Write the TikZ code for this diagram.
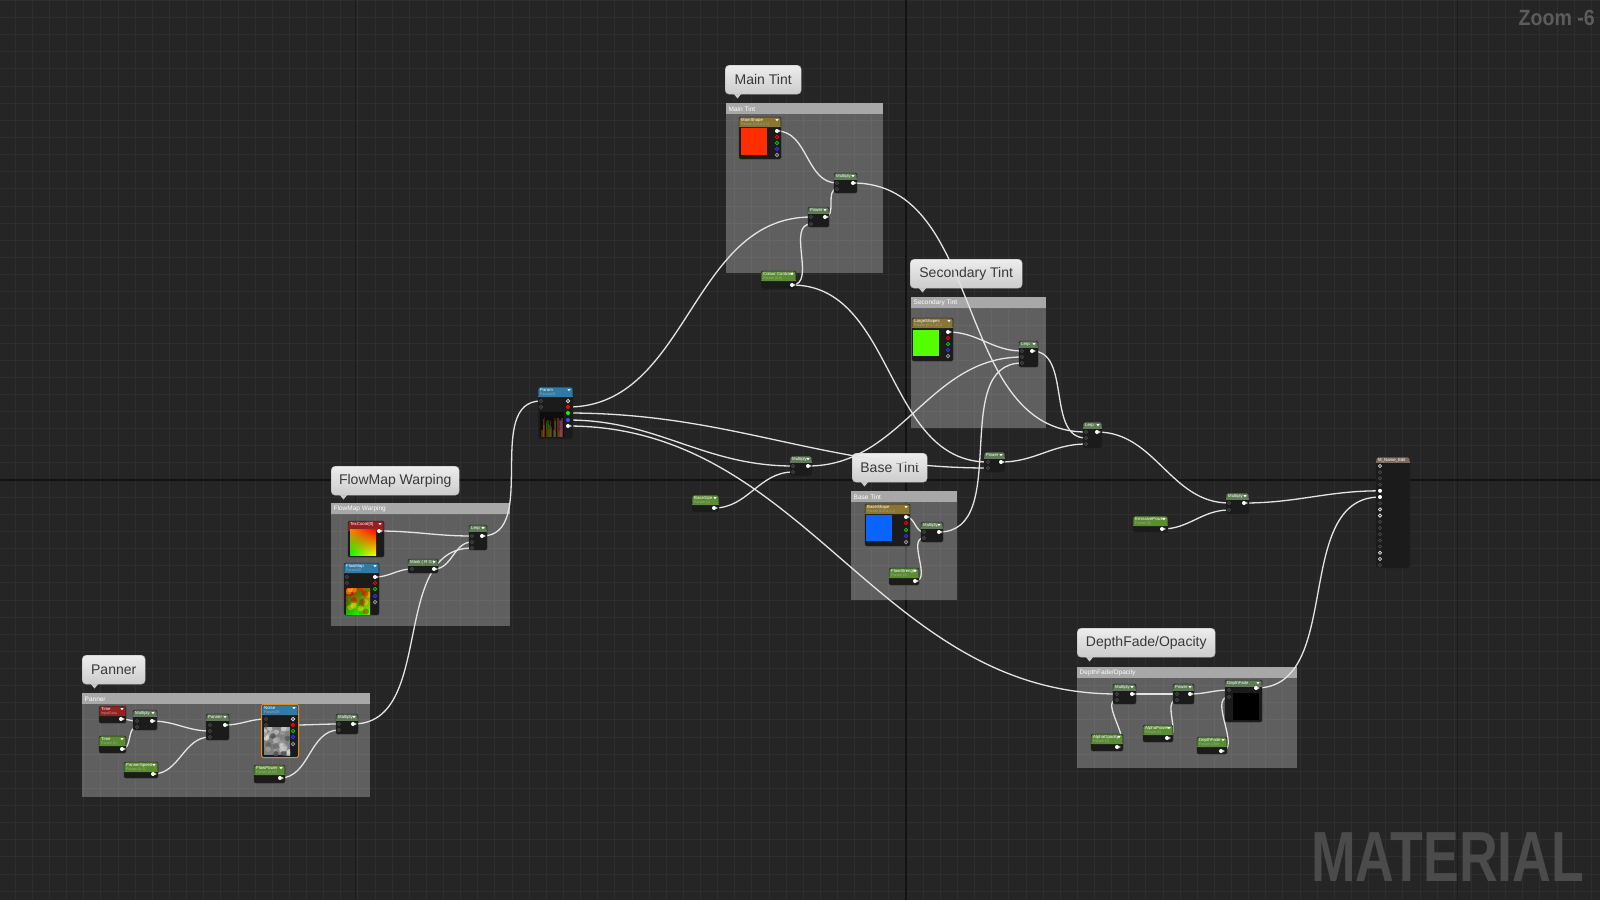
\documentclass[tikz,border=0pt]{standalone}
\usepackage{fontspec}
\setmainfont{Liberation Sans}
\usetikzlibrary{shadings}
\definecolor{bgc}{HTML}{252525}
\definecolor{gridc}{HTML}{2E2E2E}
\definecolor{axisc}{HTML}{121212}
\definecolor{majc}{HTML}{1C1C1C}
\definecolor{wirec}{HTML}{E4E4E4}
\definecolor{nodebody}{HTML}{1B1B1B}
\definecolor{mathhead}{HTML}{5E7A57}
\definecolor{paramhead}{HTML}{5A8C32}
\definecolor{vechead}{HTML}{8A7532}
\definecolor{texhead}{HTML}{2F7BA6}
\definecolor{redhead}{HTML}{952020}
\definecolor{reshead}{HTML}{7B6A5C}
\definecolor{ctitle}{HTML}{A8A8A8}
\definecolor{swred}{HTML}{FF2D00}
\definecolor{swgreen}{HTML}{55FF00}
\definecolor{swblue}{HTML}{0A64FF}
\definecolor{selorange}{HTML}{E08A1E}
\definecolor{pindim}{HTML}{4A4A4A}
\definecolor{bubtext}{HTML}{383838}
\definecolor{matc}{HTML}{4B4B4B}
\definecolor{zoomc}{HTML}{5C5C5C}
\pgfdeclarelayer{bglayer}
\pgfdeclarelayer{wirelayer}
\pgfsetlayers{bglayer,wirelayer,main}
\newcommand\mkNode[8]{%
  \pgfmathsetmacro\mkw{#4-(#2)}%
  \pgfmathsetmacro\mkh{#5-(#3)}%
  \node[nodebox, minimum width=\mkw pt, minimum height=\mkh pt, anchor=north west] (#1) at (#2,#3) {};%
  \fill[#6, rounded corners=1.5pt] (#2+0.4,#3+0.4) rectangle (#4-0.4,#3+#7);%
  \fill[#6] (#2+0.4,#3+#7-1.5) rectangle (#4-0.4,#3+#7);%
  \node[ntitle, anchor=west] (#1-t) at (#2+2,#3+3.2) {#8};%
}
\newcommand\mathN[6]{%
  \mkNode{#1}{#2}{#3}{#4}{#5}{mathhead}{6.5}{#6}%
  \fill[white] (#4-5.5,#3+2.2) -- (#4-2.5,#3+2.2) -- (#4-4,#3+4.2) -- cycle;%
}
\newcommand\parN[8]{%
  \mkNode{#1}{#2}{#3}{#4}{#5}{#6}{10}{#7}%
  \node[nsub, anchor=west] (#1-s) at (#2+2,#3+7.4) {#8};%
  \fill[white] (#4-5.5,#3+2.2) -- (#4-2.5,#3+2.2) -- (#4-4,#3+4.2) -- cycle;%
}
\newcommand\pOut[3]{%
  \coordinate (#1) at (#2,#3);%
  \fill[white] (#1) circle (2);%
  \fill[white] (#2+2.4,#3-1.2) -- (#2+3.6,#3) -- (#2+2.4,#3+1.2) -- cycle;%
}
\newcommand\pIn[3]{%
  \coordinate (#1) at (#2,#3);%
  \draw[pindim, line width=0.7pt] (#1) circle (1.6);%
}
\newcommand\pCol[4]{%
  \coordinate (#1) at (#2,#3);%
  \draw[#4, line width=0.8pt] (#1) circle (1.7);%
}
\newcommand\mkComment[6]{%
  \pgfmathsetmacro\mkw{#4-(#2)}%
  \pgfmathsetmacro\mkh{#5-(#3)}%
  \node[cbox, minimum width=\mkw pt, minimum height=\mkh pt, anchor=north west] (#1) at (#2,#3) {};%
  \fill[ctitle] (#2,#3) rectangle (#4,#3+11);%
  \node[ctext, anchor=west] (#1-t) at (#2+2.5,#3+5.8) {#6};%
}
\newcommand\mkBubble[6]{%
  \pgfmathsetmacro\mkw{#4-(#2)}%
  \pgfmathsetmacro\mkh{#5-(#3)}%
  \fill[white!80!black] (#2+8,#5-1) -- (#2+17,#5-1) -- (#2+12.5,#5+4.5) -- cycle;%
  \node[bubble, minimum width=\mkw pt, minimum height=\mkh pt, anchor=north west] (#1) at (#2,#3) {#6};%
}
\begin{document}
\begin{tikzpicture}[x=1pt,y=-1pt,
  wire/.style={draw=wirec, line width=1.3pt, line cap=round},
  nodebox/.style={draw=black!85, fill=nodebody, rounded corners=1.5pt, inner sep=0pt, outer sep=0pt},
  ntitle/.style={text=white, font=\fontsize{4.3}{5}\selectfont, inner sep=0pt},
  nsub/.style={text=white!65!black, font=\fontsize{3.6}{4}\selectfont, inner sep=0pt},
  bubble/.style={draw=white!70!black, top color=white!93!black, bottom color=white!80!black, rounded corners=4pt, text=bubtext, font=\fontsize{14}{16}\selectfont, inner sep=0pt},
  cbox/.style={fill=white, fill opacity=0.27, draw=none, inner sep=0pt},
  ctext/.style={text=white, font=\fontsize{6.5}{7}\selectfont, inner sep=0pt},
  resdim/.style={draw=pindim, line width=0.7pt},
  resbright/.style={draw=white!85!black, line width=0.8pt}]
\useasboundingbox (0,0) rectangle (1600,900);
\begin{pgfonlayer}{bglayer}
\fill[bgc] (0,0) rectangle (1600,900);
\foreach \i in {-52,...,40} {\pgfmathsetmacro\gx{906+\i*17.13}\draw[gridc, line width=0.8pt] (\gx,0) -- (\gx,900);}
\foreach \j in {-28,...,24} {\pgfmathsetmacro\gy{480+\j*17.13}\draw[gridc, line width=0.8pt] (0,\gy) -- (1600,\gy);}
\draw[majc, line width=1pt] (355,0) -- (355,900);
\draw[majc, line width=1pt] (1457,0) -- (1457,900);
\draw[axisc, line width=1.3pt] (906,0) -- (906,900);
\draw[axisc, line width=1.3pt] (0,480) -- (1600,480);
% watermark texts
\node[anchor=south west, inner sep=0pt, text=matc, font=\fontsize{71}{71}\selectfont\bfseries, xscale=0.755] (mat) at (1311,882) {MATERIAL};
\node[anchor=north east, inner sep=0pt, text=zoomc, font=\fontsize{22}{22}\selectfont\bfseries, xscale=0.89] (zoom) at (1595,10) {Zoom -6};
% comment boxes
\mkComment{cMain}{726}{103}{883}{273}{Main Tint}
\mkComment{cSec}{911}{297}{1046}{428}{Secondary Tint}
\mkComment{cBase}{851}{491}{957}{600}{Base Tint}
\mkComment{cFlow}{331}{503}{510}{626}{FlowMap Warping}
\mkComment{cPan}{82}{693}{370}{797}{Panner}
\mkComment{cDepth}{1077}{667}{1297}{768}{DepthFade/Opacity}
% bubbles
\mkBubble{bMain}{725}{65}{801}{94}{Main Tint}
\mkBubble{bSec}{910}{259}{1022}{288}{Secondary Tint}
\mkBubble{bBase}{852}{453}{927}{482}{Base Tint}
\mkBubble{bFlow}{331}{466}{459}{495}{FlowMap Warping}
\mkBubble{bPan}{82}{655}{145}{684}{Panner}
\mkBubble{bDepth}{1077}{628}{1215}{657}{DepthFade/Opacity}
\end{pgfonlayer}
%% ---------------- Main Tint
\parN{ms}{739}{117}{781}{159}{vechead}{MainShape}{Param (1,0.2,0,1)}
\fill[swred] (741,128) rectangle (767,155);
\pOut{ms-o}{777}{131}\pCol{ms-r}{777}{137}{red}\pCol{ms-g}{777}{143}{green!80!black}\pCol{ms-b}{777}{149}{blue!80!white}\pCol{ms-a}{777}{155}{white!60!black}
\mathN{mtMul}{834}{173}{857}{193}{Multiply}
\pIn{mtMul-i1}{837}{183}\pIn{mtMul-i2}{837}{189}\pOut{mtMul-o}{853}{183}
\mathN{mtPow}{808}{207}{829}{227}{Power}
\pIn{mtPow-i1}{811}{217}\pIn{mtPow-i2}{811}{224}\pOut{mtPow-o}{825}{217}
\parN{cc}{761}{271}{796}{289}{paramhead}{Colour Contrast}{Param (0.5)}
\pOut{cc-o}{792}{285}
%% ---------------- Secondary Tint
\parN{ls}{912}{318}{953}{361}{vechead}{LargeShapes}{Param (0.3,1,0,1)}
\fill[swgreen] (913,330) rectangle (939,356);
\pOut{ls-o}{948}{332}\pCol{ls-r}{948}{338}{red}\pCol{ls-g}{948}{344}{green!80!black}\pCol{ls-b}{948}{350}{blue!80!white}\pCol{ls-a}{948}{356}{white!60!black}
\mathN{stL}{1019}{341}{1038}{367}{Lerp}
\pIn{stL-i1}{1022}{351}\pIn{stL-i2}{1022}{357}\pIn{stL-i3}{1022}{363}\pOut{stL-o}{1032}{351}
\mathN{l2}{1083}{422}{1102}{448}{Lerp}
\pIn{l2-i1}{1086}{432}\pIn{l2-i2}{1086}{438}\pIn{l2-i3}{1086}{444}\pOut{l2-o}{1097}{432}
\mathN{pw2}{984}{452}{1005}{472}{Power}
\pIn{pw2-i1}{988}{462}\pIn{pw2-i2}{988}{468}\pOut{pw2-o}{1001}{462}
%% ---------------- Base Tint
\parN{bsh}{865}{504}{910}{546}{vechead}{BaseShape}{Param (0,0.4,1,1)}
\fill[swblue] (866,515) rectangle (892,541);
\pOut{bsh-o}{906}{517}\pCol{bsh-r}{906}{523}{red}\pCol{bsh-g}{906}{530}{green!80!black}\pCol{bsh-b}{906}{536}{blue!80!white}\pCol{bsh-a}{906}{542}{white!60!black}
\mathN{btMul}{921}{522}{943}{542}{Multiply}
\pIn{btMul-i1}{924}{532}\pIn{btMul-i2}{924}{538}\pOut{btMul-o}{939}{532}
\parN{fs}{889}{568}{919}{585}{paramhead}{FlowStrength}{Param (1)}
\pOut{fs-o}{915}{581}
%% ---------------- middle
\mathN{mm}{790}{456}{812}{476}{Multiply}
\pIn{mm-i1}{793}{466}\pIn{mm-i2}{793}{472}\pOut{mm-o}{808}{466}
\parN{bs}{692}{495}{719}{512}{paramhead}{BaseSize}{Param (1)}
\pOut{bs-o}{714}{508}
\parN{prm}{538}{387}{573}{439}{texhead}{Param}{Param2D}
\fill[black!95] (540,412) rectangle (564,437);
\begin{scope}
\clip (540,412) rectangle (564,437);
\pgfmathsetseed{7}
\foreach \k in {1,...,30}{%
  \pgfmathsetmacro\sx{540+22*rnd}%
  \pgfmathsetmacro\sh{4+16*rnd}%
  \pgfmathtruncatemacro\sc{mod(\k,4)}%
  \ifcase\sc \def\scol{red!70!black}\or \def\scol{green!55!black}\or \def\scol{magenta!55!black}\or \def\scol{orange!65!black}\fi
  \fill[\scol, opacity=0.5] (\sx,437) rectangle (\sx+1.6,437-\sh);
}
\end{scope}
\pIn{prm-i1}{541}{401}\pIn{prm-i2}{541}{407}
\pCol{prm-rgb}{568}{401}{white!85!black}
\coordinate (prm-r) at (568,407);\fill[red] (prm-r) circle (2);
\coordinate (prm-g) at (568,413);\fill[green] (prm-g) circle (2);
\coordinate (prm-b) at (568,420);\fill[blue!70!white] (prm-b) circle (2);
\pOut{prm-a}{568}{426}
%% ---------------- FlowMap Warping
\parN{tc}{348}{521}{384}{557}{redhead}{TexCoord[0]}{}
\shade[upper left=orange, upper right=red, lower left=green, lower right=yellow] (350,529) rectangle (376,555);
\pOut{tc-o}{379}{531}
\parN{fm}{344}{563}{379}{615}{texhead}{FlowMap}{Param2D}
\shade[upper left=red!80!black, upper right=orange!80!black, lower left=green!80!black, lower right=green!60!yellow] (346,588) rectangle (370,614);
\begin{scope}
\clip (346,588) rectangle (370,614);
\pgfmathsetseed{11}
\foreach \k in {1,...,30}{%
  \pgfmathsetmacro\ax{346+24*rnd}%
  \pgfmathsetmacro\ay{588+26*rnd}%
  \pgfmathtruncatemacro\sc{mod(\k,3)}%
  \ifcase\sc \def\scol{red!80!black}\or \def\scol{green!70!black}\or \def\scol{yellow!80!orange}\fi
  \fill[\scol, opacity=0.45] (\ax,\ay) circle (3);
}
\end{scope}
\pIn{fm-i1}{347}{577}\pIn{fm-i2}{347}{583}
\pOut{fm-o}{375}{577}\pCol{fm-r}{375}{583}{red}\pCol{fm-g}{375}{589}{green!80!black}\pCol{fm-b}{375}{596}{blue!80!white}\pCol{fm-a}{375}{602}{white!60!black}
\mathN{mask}{408}{559}{438}{573}{Mask ( R G )}
\pIn{mask-i}{412}{569}\pOut{mask-o}{434}{569}
\mathN{fmL}{469}{525}{487}{550}{Lerp}
\pIn{fmL-i1}{472}{536}\pIn{fmL-i2}{472}{542}\pIn{fmL-i3}{472}{548}\pOut{fmL-o}{482}{536}
%% ---------------- Panner
\parN{tr}{99}{706}{126}{723}{redhead}{Time}{InputData}
\pOut{tr-o}{121}{719}
\parN{tg}{99}{736}{126}{753}{paramhead}{Time}{Param (1)}
\pOut{tg-o}{122}{749}
\mathN{pMul}{133}{710}{157}{730}{Multiply}
\pIn{pMul-i1}{137}{721}\pIn{pMul-i2}{137}{727}\pOut{pMul-o}{152}{721}
\mathN{pan}{206}{714}{229}{740}{Panner}
\pIn{pan-i1}{210}{725}\pIn{pan-i2}{210}{731}\pIn{pan-i3}{210}{737}\pOut{pan-o}{225}{725}
\parN{ps}{124}{762}{158}{778}{paramhead}{PannerSpeed}{Param (0.1)}
\pOut{ps-o}{153}{774}
\parN{nz}{262}{705}{298}{757}{texhead}{Noise}{Param2D}
\draw[selorange, line width=1pt, rounded corners=1.5pt] (261.5,704.5) rectangle (298.5,757.5);
\fill[white!50!black] (264,727) rectangle (290,755);
\begin{scope}
\clip (264,727) rectangle (290,755);
\pgfmathsetseed{3}
\foreach \k in {1,...,45}{%
  \pgfmathsetmacro\ax{264+26*rnd}%
  \pgfmathsetmacro\ay{727+28*rnd}%
  \pgfmathtruncatemacro\gv{20+70*rnd}%
  \fill[white!\gv!black, opacity=0.7] (\ax,\ay) circle (2.8);
}
\end{scope}
\pIn{nz-i1}{266}{719}\pIn{nz-i2}{266}{725}
\pCol{nz-rgb}{293}{719}{white!85!black}
\coordinate (nz-r) at (293,725);\fill[red] (nz-r) circle (2);
\pCol{nz-g}{293}{731}{green!80!black}\pCol{nz-b}{293}{737}{blue!80!white}\pCol{nz-a}{293}{744}{white!60!black}
\parN{fp}{254}{765}{285}{783}{paramhead}{FlowPower}{Param (0.05)}
\pOut{fp-o}{280}{778}
\mathN{pMul2}{336}{714}{358}{734}{Multiply}
\pIn{pMul2-i1}{339}{724}\pIn{pMul2-i2}{339}{730}\pOut{pMul2-o}{353}{724}
%% ---------------- DepthFade / Opacity
\mathN{dMul}{1113}{684}{1136}{704}{Multiply}
\pIn{dMul-i1}{1117}{694}\pIn{dMul-i2}{1117}{700}\pOut{dMul-o}{1132}{694}
\mathN{dPow}{1173}{684}{1194}{704}{Power}
\pIn{dPow-i1}{1177}{694}\pIn{dPow-i2}{1177}{700}\pOut{dPow-o}{1190}{694}
\mathN{dfn}{1225}{680}{1262}{722}{DepthFade}
\fill[black] (1233,693) rectangle (1259,720);
\pIn{dfn-i1}{1229}{690}\pIn{dfn-i2}{1229}{697}\pOut{dfn-o}{1256}{688}
\parN{ao}{1091}{734}{1123}{751}{paramhead}{AlphaOpacity}{Param (1)}
\pOut{ao-o}{1117}{747}
\parN{ap}{1143}{725}{1173}{742}{paramhead}{AlphaPower}{Param (1)}
\pOut{ap-o}{1167}{738}
\parN{dfp}{1197}{737}{1227}{754}{paramhead}{DepthFade}{Param (200)}
\pOut{dfp-o}{1221}{751}
%% ---------------- Emissive / result
\parN{ep}{1133}{516}{1168}{532}{paramhead}{EmissivePower}{Param (5)}
\pOut{ep-o}{1162}{529}
\mathN{eMul}{1226}{493}{1249}{514}{Multiply}
\pIn{eMul-i1}{1229}{503}\pIn{eMul-i2}{1229}{510}\pOut{eMul-o}{1244}{503}
\mkNode{res}{1376}{457}{1410}{568}{reshead}{5.5}{M\_Name\_Edit}
\foreach \k in {0,...,16}{%
  \pgfmathsetmacro\py{466+\k*6.2}%
  \coordinate (res-\k) at (1380,\py);
  \ifnum\k=4 \fill[white] (res-\k) circle (2);\else
  \ifnum\k=5 \fill[white] (res-\k) circle (2);\else
  \ifnum\k=0 \draw[resbright] (res-\k) circle (1.6);\else
  \ifnum\k=7 \draw[resbright] (res-\k) circle (1.6);\else
  \ifnum\k=8 \draw[resbright] (res-\k) circle (1.6);\else
  \ifnum\k=14 \draw[resbright] (res-\k) circle (1.6);\else
  \ifnum\k=15 \draw[resbright] (res-\k) circle (1.6);\else
  \draw[resdim] (res-\k) circle (1.6);\fi\fi\fi\fi\fi\fi\fi
}
%% ---------------- wires
\begin{pgfonlayer}{wirelayer}
\begin{scope}[every to/.style={out=0,in=180}]
% Main Tint
\draw[wire] (prm-r) to (mtPow-i1);
\draw[wire] (ms-o) to (mtMul-i1);
\draw[wire] (mtPow-o) to (mtMul-i2);
\draw[wire] (cc-o) to (mtPow-i2);
\draw[wire] (mtMul-o) to (l2-i1);
\draw[wire] (cc-o) to (pw2-i1);
% Secondary Tint
\draw[wire] (ls-o) to (stL-i1);
\draw[wire] (mm-o) to (stL-i2);
\draw[wire] (btMul-o) to (stL-i3);
\draw[wire] (stL-o) to (l2-i2);
\draw[wire] (pw2-o) to (l2-i3);
% from Param
\draw[wire] (prm-g) to (pw2-i2);
\draw[wire] (prm-b) to (mm-i1);
\draw[wire] (bs-o) to (mm-i2);
\draw[wire] (prm-a) to (dMul-i1);
% Base Tint
\draw[wire] (bsh-o) to (btMul-i1);
\draw[wire] (fs-o) to (btMul-i2);
% emissive / result
\draw[wire] (l2-o) to (eMul-i1);
\draw[wire] (ep-o) to (eMul-i2);
\draw[wire] (eMul-o) to (res-4);
\draw[wire] (dfn-o) to (res-5);
% DepthFade
\draw[wire] (ao-o) to (dMul-i2);
\draw[wire] (dMul-o) to (dPow-i1);
\draw[wire] (ap-o) to (dPow-i2);
\draw[wire] (dPow-o) to (dfn-i1);
\draw[wire] (dfp-o) to (dfn-i2);
% Panner
\draw[wire] (tr-o) to (pMul-i1);
\draw[wire] (tg-o) to (pMul-i2);
\draw[wire] (pMul-o) to (pan-i2);
\draw[wire] (ps-o) to (pan-i3);
\draw[wire] (pan-o) to (nz-i1);
\draw[wire] (nz-r) to (pMul2-i1);
\draw[wire] (fp-o) to (pMul2-i2);
\draw[wire] (pMul2-o) to (fmL-i3);
% FlowMap
\draw[wire] (tc-o) to (fmL-i1);
\draw[wire] (fm-o) to (mask-i);
\draw[wire] (mask-o) to (fmL-i2);
\draw[wire] (fmL-o) to (prm-i1);
\end{scope}
\end{pgfonlayer}
\end{tikzpicture}
\end{document}
